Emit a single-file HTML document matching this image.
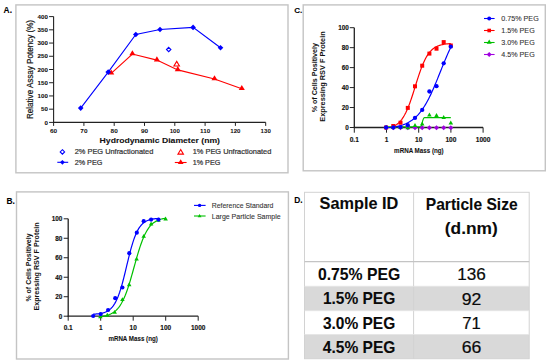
<!DOCTYPE html>
<html><head><meta charset="utf-8"><style>
html,body{margin:0;padding:0;background:#fff;width:550px;height:364px;overflow:hidden;}
svg{position:absolute;left:0;top:0;}
svg text{font-family:"Liberation Sans", sans-serif;}
</style></head><body>
<svg width="550" height="364" viewBox="0 0 550 364">
<rect x="15.9" y="4.9" width="272.1" height="167.9" fill="none" stroke="#c4c4c4" stroke-width="1.4"/>
<rect x="303.2" y="4.9" width="242.09999999999997" height="165.9" fill="none" stroke="#c4c4c4" stroke-width="1.4"/>
<rect x="16.5" y="191.9" width="271.9" height="167.1" fill="none" stroke="#c4c4c4" stroke-width="1.4"/>
<text x="3.6" y="12.8" font-size="8.4" font-weight="bold" fill="#000" stroke="#000" stroke-width="0.08">A.</text>
<text x="6.4" y="203.6" font-size="8.4" font-weight="bold" fill="#000" stroke="#000" stroke-width="0.08">B.</text>
<text x="294.2" y="12.9" font-size="8.0" font-weight="bold" fill="#000" stroke="#000" stroke-width="0.08">C.</text>
<text x="294.2" y="203.3" font-size="8.4" font-weight="bold" fill="#000" stroke="#000" stroke-width="0.08">D.</text>
<line x1="53.6" y1="16.6" x2="53.6" y2="122.9" stroke="#222" stroke-width="1.1"/>
<line x1="53.1" y1="122.4" x2="265.7" y2="122.4" stroke="#222" stroke-width="1.1"/>
<line x1="49.1" y1="122.4" x2="53.6" y2="122.4" stroke="#222" stroke-width="1"/>
<text x="47.9" y="124.60000000000001" font-size="6.2" font-weight="bold" text-anchor="end" fill="#111" stroke="#111" stroke-width="0.08">0</text>
<line x1="49.1" y1="109.17500000000001" x2="53.6" y2="109.17500000000001" stroke="#222" stroke-width="1"/>
<text x="47.9" y="111.37500000000001" font-size="6.2" font-weight="bold" text-anchor="end" fill="#111" stroke="#111" stroke-width="0.08">50</text>
<line x1="49.1" y1="95.95" x2="53.6" y2="95.95" stroke="#222" stroke-width="1"/>
<text x="47.9" y="98.15" font-size="6.2" font-weight="bold" text-anchor="end" fill="#111" stroke="#111" stroke-width="0.08">100</text>
<line x1="49.1" y1="82.725" x2="53.6" y2="82.725" stroke="#222" stroke-width="1"/>
<text x="47.9" y="84.925" font-size="6.2" font-weight="bold" text-anchor="end" fill="#111" stroke="#111" stroke-width="0.08">150</text>
<line x1="49.1" y1="69.5" x2="53.6" y2="69.5" stroke="#222" stroke-width="1"/>
<text x="47.9" y="71.7" font-size="6.2" font-weight="bold" text-anchor="end" fill="#111" stroke="#111" stroke-width="0.08">200</text>
<line x1="49.1" y1="56.275000000000006" x2="53.6" y2="56.275000000000006" stroke="#222" stroke-width="1"/>
<text x="47.9" y="58.47500000000001" font-size="6.2" font-weight="bold" text-anchor="end" fill="#111" stroke="#111" stroke-width="0.08">250</text>
<line x1="49.1" y1="43.05" x2="53.6" y2="43.05" stroke="#222" stroke-width="1"/>
<text x="47.9" y="45.25" font-size="6.2" font-weight="bold" text-anchor="end" fill="#111" stroke="#111" stroke-width="0.08">300</text>
<line x1="49.1" y1="29.825000000000003" x2="53.6" y2="29.825000000000003" stroke="#222" stroke-width="1"/>
<text x="47.9" y="32.025000000000006" font-size="6.2" font-weight="bold" text-anchor="end" fill="#111" stroke="#111" stroke-width="0.08">350</text>
<line x1="49.1" y1="16.599999999999994" x2="53.6" y2="16.599999999999994" stroke="#222" stroke-width="1"/>
<text x="47.9" y="18.799999999999994" font-size="6.2" font-weight="bold" text-anchor="end" fill="#111" stroke="#111" stroke-width="0.08">400</text>
<line x1="53.6" y1="122.4" x2="53.6" y2="125.9" stroke="#222" stroke-width="1"/>
<text x="53.6" y="132.7" font-size="6.0" font-weight="bold" text-anchor="middle" textLength="7.2" lengthAdjust="spacingAndGlyphs" fill="#111" stroke="#111" stroke-width="0.02">60</text>
<line x1="83.9" y1="122.4" x2="83.9" y2="125.9" stroke="#222" stroke-width="1"/>
<text x="83.9" y="132.7" font-size="6.0" font-weight="bold" text-anchor="middle" textLength="7.2" lengthAdjust="spacingAndGlyphs" fill="#111" stroke="#111" stroke-width="0.02">70</text>
<line x1="114.19999999999999" y1="122.4" x2="114.19999999999999" y2="125.9" stroke="#222" stroke-width="1"/>
<text x="114.19999999999999" y="132.7" font-size="6.0" font-weight="bold" text-anchor="middle" textLength="7.2" lengthAdjust="spacingAndGlyphs" fill="#111" stroke="#111" stroke-width="0.02">80</text>
<line x1="144.5" y1="122.4" x2="144.5" y2="125.9" stroke="#222" stroke-width="1"/>
<text x="144.5" y="132.7" font-size="6.0" font-weight="bold" text-anchor="middle" textLength="7.2" lengthAdjust="spacingAndGlyphs" fill="#111" stroke="#111" stroke-width="0.02">90</text>
<line x1="174.79999999999998" y1="122.4" x2="174.79999999999998" y2="125.9" stroke="#222" stroke-width="1"/>
<text x="174.79999999999998" y="132.7" font-size="6.0" font-weight="bold" text-anchor="middle" textLength="10.2" lengthAdjust="spacingAndGlyphs" fill="#111" stroke="#111" stroke-width="0.02">100</text>
<line x1="205.1" y1="122.4" x2="205.1" y2="125.9" stroke="#222" stroke-width="1"/>
<text x="205.1" y="132.7" font-size="6.0" font-weight="bold" text-anchor="middle" textLength="10.2" lengthAdjust="spacingAndGlyphs" fill="#111" stroke="#111" stroke-width="0.02">110</text>
<line x1="235.39999999999998" y1="122.4" x2="235.39999999999998" y2="125.9" stroke="#222" stroke-width="1"/>
<text x="235.39999999999998" y="132.7" font-size="6.0" font-weight="bold" text-anchor="middle" textLength="10.2" lengthAdjust="spacingAndGlyphs" fill="#111" stroke="#111" stroke-width="0.02">120</text>
<line x1="265.7" y1="122.4" x2="265.7" y2="125.9" stroke="#222" stroke-width="1"/>
<text x="265.7" y="132.7" font-size="6.0" font-weight="bold" text-anchor="middle" textLength="10.2" lengthAdjust="spacingAndGlyphs" fill="#111" stroke="#111" stroke-width="0.02">130</text>
<text x="32.8" y="69.5" font-size="8.3" text-anchor="middle" textLength="99" lengthAdjust="spacingAndGlyphs" transform="rotate(-90 32.8 69.5)" fill="#111" stroke="#111" stroke-width="0.2">Relative Assay Potency  (%)</text>
<text x="159.8" y="142.5" font-size="6.8" font-weight="bold" text-anchor="middle" textLength="120.4" lengthAdjust="spacingAndGlyphs" fill="#111" stroke="#111" stroke-width="0.08">Hydrodynamic Diameter (nm)</text>
<path d="M111.2 73.3L132.4 54L156.9 60.1L177.8 69.9L214.5 79L241.8 88.7" stroke="#ff0000" fill="none" stroke-width="1.1"/>
<path d="M80.7 108.1L108.2 72.1L135.8 34.5L160 29.5L193.1 27.4L220.5 47.7" stroke="#0000ff" fill="none" stroke-width="1.1"/>
<path d="M111.2 69.5L114.24000000000001 74.62L108.16 74.62Z" stroke="none" fill="#ff0000" stroke-width="1"/>
<path d="M132.4 50.199999999999996L135.44 55.32L129.36 55.32Z" stroke="none" fill="#ff0000" stroke-width="1"/>
<path d="M156.9 56.3L159.94 61.42L153.86 61.42Z" stroke="none" fill="#ff0000" stroke-width="1"/>
<path d="M177.8 66.10000000000001L180.84 71.22000000000001L174.76000000000002 71.22000000000001Z" stroke="none" fill="#ff0000" stroke-width="1"/>
<path d="M214.5 75.2L217.54 80.32000000000001L211.46 80.32000000000001Z" stroke="none" fill="#ff0000" stroke-width="1"/>
<path d="M241.8 84.9L244.84 90.02000000000001L238.76000000000002 90.02000000000001Z" stroke="none" fill="#ff0000" stroke-width="1"/>
<path d="M80.7 105.3L83.5 108.1L80.7 110.89999999999999L77.9 108.1Z" stroke="none" fill="#0000ff" stroke-width="1"/>
<path d="M108.2 69.3L111.0 72.1L108.2 74.89999999999999L105.4 72.1Z" stroke="none" fill="#0000ff" stroke-width="1"/>
<path d="M135.8 31.7L138.60000000000002 34.5L135.8 37.3L133.0 34.5Z" stroke="none" fill="#0000ff" stroke-width="1"/>
<path d="M160 26.7L162.8 29.5L160 32.3L157.2 29.5Z" stroke="none" fill="#0000ff" stroke-width="1"/>
<path d="M193.1 24.599999999999998L195.9 27.4L193.1 30.2L190.29999999999998 27.4Z" stroke="none" fill="#0000ff" stroke-width="1"/>
<path d="M220.5 44.900000000000006L223.3 47.7L220.5 50.5L217.7 47.7Z" stroke="none" fill="#0000ff" stroke-width="1"/>
<path d="M168.7 47.3L170.89999999999998 49.5L168.7 51.7L166.5 49.5Z" stroke="#0000ff" fill="#fff" stroke-width="1.1"/>
<path d="M176.7 61.4L179.45499999999998 66.03999999999999L173.945 66.03999999999999Z" stroke="#ff0000" fill="#fff" stroke-width="1.1"/>
<path d="M62.4 149.70000000000002L64.6 151.9L62.4 154.1L60.199999999999996 151.9Z" stroke="#0000ff" fill="#fff" stroke-width="1.1"/>
<line x1="57.3" y1="162.3" x2="68.2" y2="162.3" stroke="#0000ff" stroke-width="1.1"/>
<path d="M62.4 159.9L64.8 162.3L62.4 164.70000000000002L60.0 162.3Z" stroke="none" fill="#0000ff" stroke-width="1"/>
<text x="74.7" y="154.4" font-size="6.9" textLength="78.6" lengthAdjust="spacingAndGlyphs" fill="#333" stroke="#333" stroke-width="0.2">2% PEG Unfractionated</text>
<text x="74.7" y="164.5" font-size="6.9" textLength="27.6" lengthAdjust="spacingAndGlyphs" fill="#333" stroke="#333" stroke-width="0.2">2% PEG</text>
<path d="M180.7 149.5L183.45499999999998 154.14000000000001L177.945 154.14000000000001Z" stroke="#ff0000" fill="#fff" stroke-width="1.1"/>
<line x1="174.8" y1="162.5" x2="186.6" y2="162.5" stroke="#ff0000" stroke-width="1.1"/>
<path d="M180.7 159.3L183.54999999999998 164.10000000000002L177.85 164.10000000000002Z" stroke="none" fill="#ff0000" stroke-width="1"/>
<text x="192.7" y="154.4" font-size="6.9" textLength="78.6" lengthAdjust="spacingAndGlyphs" fill="#333" stroke="#333" stroke-width="0.2">1% PEG Unfractionated</text>
<text x="192.7" y="164.5" font-size="6.9" textLength="27.6" lengthAdjust="spacingAndGlyphs" fill="#333" stroke="#333" stroke-width="0.2">1% PEG</text>
<line x1="68.2" y1="218.8" x2="68.2" y2="316.7" stroke="#222" stroke-width="1.3"/>
<line x1="67.7" y1="316.2" x2="198.2" y2="316.2" stroke="#222" stroke-width="1.3"/>
<line x1="63.7" y1="316.2" x2="68.2" y2="316.2" stroke="#222" stroke-width="1"/>
<text x="62.4" y="318.7" font-size="7.0" font-weight="bold" text-anchor="end" textLength="3.56" lengthAdjust="spacingAndGlyphs" fill="#111" stroke="#111" stroke-width="0.15">0</text>
<line x1="63.7" y1="296.71999999999997" x2="68.2" y2="296.71999999999997" stroke="#222" stroke-width="1"/>
<text x="62.4" y="299.21999999999997" font-size="7.0" font-weight="bold" text-anchor="end" textLength="7.12" lengthAdjust="spacingAndGlyphs" fill="#111" stroke="#111" stroke-width="0.15">20</text>
<line x1="63.7" y1="277.24" x2="68.2" y2="277.24" stroke="#222" stroke-width="1"/>
<text x="62.4" y="279.74" font-size="7.0" font-weight="bold" text-anchor="end" textLength="7.12" lengthAdjust="spacingAndGlyphs" fill="#111" stroke="#111" stroke-width="0.15">40</text>
<line x1="63.7" y1="257.76" x2="68.2" y2="257.76" stroke="#222" stroke-width="1"/>
<text x="62.4" y="260.26" font-size="7.0" font-weight="bold" text-anchor="end" textLength="7.12" lengthAdjust="spacingAndGlyphs" fill="#111" stroke="#111" stroke-width="0.15">60</text>
<line x1="63.7" y1="238.28" x2="68.2" y2="238.28" stroke="#222" stroke-width="1"/>
<text x="62.4" y="240.78" font-size="7.0" font-weight="bold" text-anchor="end" textLength="7.12" lengthAdjust="spacingAndGlyphs" fill="#111" stroke="#111" stroke-width="0.15">80</text>
<line x1="63.7" y1="218.8" x2="68.2" y2="218.8" stroke="#222" stroke-width="1"/>
<text x="62.4" y="221.3" font-size="7.0" font-weight="bold" text-anchor="end" textLength="10.68" lengthAdjust="spacingAndGlyphs" fill="#111" stroke="#111" stroke-width="0.15">100</text>
<line x1="68.2" y1="316.2" x2="68.2" y2="320.7" stroke="#222" stroke-width="1"/>
<text x="68.2" y="329.9" font-size="7.0" font-weight="bold" text-anchor="middle" textLength="9.04" lengthAdjust="spacingAndGlyphs" fill="#111" stroke="#111" stroke-width="0.15">0.1</text>
<line x1="100.7" y1="316.2" x2="100.7" y2="320.7" stroke="#222" stroke-width="1"/>
<text x="100.7" y="329.9" font-size="7.0" font-weight="bold" text-anchor="middle" textLength="3.61" lengthAdjust="spacingAndGlyphs" fill="#111" stroke="#111" stroke-width="0.15">1</text>
<line x1="133.2" y1="316.2" x2="133.2" y2="320.7" stroke="#222" stroke-width="1"/>
<text x="133.2" y="329.9" font-size="7.0" font-weight="bold" text-anchor="middle" textLength="7.23" lengthAdjust="spacingAndGlyphs" fill="#111" stroke="#111" stroke-width="0.15">10</text>
<line x1="165.7" y1="316.2" x2="165.7" y2="320.7" stroke="#222" stroke-width="1"/>
<text x="165.7" y="329.9" font-size="7.0" font-weight="bold" text-anchor="middle" textLength="10.84" lengthAdjust="spacingAndGlyphs" fill="#111" stroke="#111" stroke-width="0.15">100</text>
<line x1="198.2" y1="316.2" x2="198.2" y2="320.7" stroke="#222" stroke-width="1"/>
<text x="198.2" y="329.9" font-size="7.0" font-weight="bold" text-anchor="middle" textLength="14.46" lengthAdjust="spacingAndGlyphs" fill="#111" stroke="#111" stroke-width="0.15">1000</text>
<text x="31.0" y="267.5" font-size="6.4" font-weight="bold" text-anchor="middle" textLength="68.2" lengthAdjust="spacingAndGlyphs" transform="rotate(-90 31.0 267.5)" fill="#111" stroke="#111" stroke-width="0">% of Cells Positively</text>
<text x="38.6" y="266.5" font-size="6.4" font-weight="bold" text-anchor="middle" textLength="88.2" lengthAdjust="spacingAndGlyphs" transform="rotate(-90 38.6 266.5)" fill="#111" stroke="#111" stroke-width="0">Expressing RSV F Protein</text>
<text x="133.1" y="340.9" font-size="6.7" font-weight="bold" text-anchor="middle" textLength="49.4" lengthAdjust="spacingAndGlyphs" fill="#111" stroke="#111" stroke-width="0.08">mRNA Mass (ng)</text>
<path d="M93.20 314.19L94.03 314.15L94.85 314.10L95.68 314.04L96.51 313.97L97.33 313.89L98.16 313.79L98.99 313.69L99.81 313.57L100.64 313.43L101.47 313.26L102.29 313.08L103.12 312.86L103.95 312.62L104.77 312.34L105.60 312.02L106.43 311.65L107.25 311.22L108.08 310.74L108.91 310.19L109.73 309.56L110.56 308.85L111.38 308.04L112.21 307.12L113.04 306.08L113.86 304.92L114.69 303.61L115.52 302.15L116.34 300.53L117.17 298.73L118.00 296.75L118.82 294.59L119.65 292.23L120.48 289.69L121.30 286.96L122.13 284.06L122.96 281.00L123.78 277.81L124.61 274.51L125.44 271.12L126.26 267.68L127.09 264.23L127.92 260.81L128.74 257.43L129.57 254.14L130.40 250.97L131.22 247.94L132.05 245.07L132.88 242.38L133.70 239.87L134.53 237.54L135.36 235.41L136.18 233.46L137.01 231.70L137.84 230.10L138.66 228.67L139.49 227.39L140.32 226.25L141.14 225.23L141.97 224.34L142.79 223.54L143.62 222.85L144.45 222.23L145.27 221.69L146.10 221.22L146.93 220.81L147.75 220.45L148.58 220.13L149.41 219.86L150.23 219.62L151.06 219.41L151.89 219.23L152.71 219.07L153.54 218.93L154.37 218.82L155.19 218.71L156.02 218.62L156.85 218.54L157.67 218.48L158.50 218.42" stroke="#0000ff" fill="none" stroke-width="1.2"/>
<path d="M100.40 316.55L101.23 316.45L102.05 316.34L102.88 316.22L103.70 316.08L104.53 315.93L105.35 315.75L106.18 315.56L107.00 315.34L107.83 315.09L108.65 314.82L109.48 314.51L110.30 314.16L111.13 313.78L111.95 313.34L112.78 312.86L113.61 312.33L114.43 311.73L115.26 311.07L116.08 310.33L116.91 309.52L117.73 308.62L118.56 307.62L119.38 306.53L120.21 305.33L121.03 304.01L121.86 302.58L122.68 301.02L123.51 299.33L124.33 297.50L125.16 295.54L125.98 293.44L126.81 291.21L127.64 288.85L128.46 286.37L129.29 283.77L130.11 281.06L130.94 278.27L131.76 275.40L132.59 272.47L133.41 269.51L134.24 266.53L135.06 263.56L135.89 260.61L136.71 257.71L137.54 254.87L138.36 252.12L139.19 249.46L140.02 246.92L140.84 244.49L141.67 242.19L142.49 240.02L143.32 237.99L144.14 236.09L144.97 234.33L145.79 232.70L146.62 231.20L147.44 229.83L148.27 228.57L149.09 227.42L149.92 226.37L150.74 225.42L151.57 224.56L152.39 223.79L153.22 223.09L154.05 222.46L154.87 221.89L155.70 221.38L156.52 220.92L157.35 220.51L158.17 220.15L159.00 219.82L159.82 219.53L160.65 219.27L161.47 219.03L162.30 218.83L163.12 218.64L163.95 218.47L164.77 218.33L165.60 218.20" stroke="#00c000" fill="none" stroke-width="1.2"/>
<path d="M100.4 314.40000000000003L102.68 318.24L98.12 318.24Z" stroke="none" fill="#00c000" stroke-width="1"/>
<path d="M107.3 312.8L109.58 316.64L105.02 316.64Z" stroke="none" fill="#00c000" stroke-width="1"/>
<path d="M114.7 310.0L116.98 313.84L112.42 313.84Z" stroke="none" fill="#00c000" stroke-width="1"/>
<path d="M122.4 297.20000000000005L124.68 301.04L120.12 301.04Z" stroke="none" fill="#00c000" stroke-width="1"/>
<path d="M129.2 282.3L131.48 286.14L126.91999999999999 286.14Z" stroke="none" fill="#00c000" stroke-width="1"/>
<path d="M136.6 256.70000000000005L138.88 260.54L134.32 260.54Z" stroke="none" fill="#00c000" stroke-width="1"/>
<path d="M143.7 234.0L145.98 237.84L141.42 237.84Z" stroke="none" fill="#00c000" stroke-width="1"/>
<path d="M151.1 221.6L153.38 225.44L148.82 225.44Z" stroke="none" fill="#00c000" stroke-width="1"/>
<path d="M158.5 217.79999999999998L160.78 221.64L156.22 221.64Z" stroke="none" fill="#00c000" stroke-width="1"/>
<path d="M165.6 216.6L167.88 220.44L163.32 220.44Z" stroke="none" fill="#00c000" stroke-width="1"/>
<circle cx="93.2" cy="316" r="2.1" fill="#0000ff"/>
<circle cx="100.7" cy="314.1" r="2.1" fill="#0000ff"/>
<circle cx="108.1" cy="310" r="2.1" fill="#0000ff"/>
<circle cx="115.2" cy="298.2" r="2.1" fill="#0000ff"/>
<circle cx="122.4" cy="287.5" r="2.1" fill="#0000ff"/>
<circle cx="129.3" cy="253.2" r="2.1" fill="#0000ff"/>
<circle cx="136.8" cy="232.7" r="2.1" fill="#0000ff"/>
<circle cx="143.7" cy="221.2" r="2.1" fill="#0000ff"/>
<circle cx="151.1" cy="219.6" r="2.1" fill="#0000ff"/>
<circle cx="158.5" cy="219.6" r="2.1" fill="#0000ff"/>
<line x1="194" y1="205.4" x2="205.6" y2="205.4" stroke="#0000ff" stroke-width="1.1"/>
<circle cx="199.6" cy="205.4" r="1.7" fill="#0000ff"/>
<line x1="194" y1="216" x2="205.6" y2="216" stroke="#00c000" stroke-width="1.1"/>
<path d="M199.6 214.0L201.5 217.2L197.7 217.2Z" stroke="none" fill="#00c000" stroke-width="1"/>
<text x="211.8" y="208.2" font-size="7.4" textLength="61.6" lengthAdjust="spacingAndGlyphs" fill="#333" stroke="#333" stroke-width="0.1">Reference Standard</text>
<text x="211.8" y="218.8" font-size="7.4" textLength="68.8" lengthAdjust="spacingAndGlyphs" fill="#333" stroke="#333" stroke-width="0.1">Large Particle Sample</text>
<line x1="354.3" y1="27.7" x2="354.3" y2="128.0" stroke="#222" stroke-width="1.3"/>
<line x1="353.8" y1="127.5" x2="483.1" y2="127.5" stroke="#222" stroke-width="1.3"/>
<line x1="349.8" y1="127.5" x2="354.3" y2="127.5" stroke="#222" stroke-width="1"/>
<text x="348.9" y="130.0" font-size="7.0" font-weight="bold" text-anchor="end" textLength="3.56" lengthAdjust="spacingAndGlyphs" fill="#111" stroke="#111" stroke-width="0.15">0</text>
<line x1="349.8" y1="107.53999999999999" x2="354.3" y2="107.53999999999999" stroke="#222" stroke-width="1"/>
<text x="348.9" y="110.03999999999999" font-size="7.0" font-weight="bold" text-anchor="end" textLength="7.12" lengthAdjust="spacingAndGlyphs" fill="#111" stroke="#111" stroke-width="0.15">20</text>
<line x1="349.8" y1="87.58" x2="354.3" y2="87.58" stroke="#222" stroke-width="1"/>
<text x="348.9" y="90.08" font-size="7.0" font-weight="bold" text-anchor="end" textLength="7.12" lengthAdjust="spacingAndGlyphs" fill="#111" stroke="#111" stroke-width="0.15">40</text>
<line x1="349.8" y1="67.62" x2="354.3" y2="67.62" stroke="#222" stroke-width="1"/>
<text x="348.9" y="70.12" font-size="7.0" font-weight="bold" text-anchor="end" textLength="7.12" lengthAdjust="spacingAndGlyphs" fill="#111" stroke="#111" stroke-width="0.15">60</text>
<line x1="349.8" y1="47.66" x2="354.3" y2="47.66" stroke="#222" stroke-width="1"/>
<text x="348.9" y="50.16" font-size="7.0" font-weight="bold" text-anchor="end" textLength="7.12" lengthAdjust="spacingAndGlyphs" fill="#111" stroke="#111" stroke-width="0.15">80</text>
<line x1="349.8" y1="27.700000000000003" x2="354.3" y2="27.700000000000003" stroke="#222" stroke-width="1"/>
<text x="348.9" y="30.200000000000003" font-size="7.0" font-weight="bold" text-anchor="end" textLength="10.68" lengthAdjust="spacingAndGlyphs" fill="#111" stroke="#111" stroke-width="0.15">100</text>
<line x1="354.3" y1="127.5" x2="354.3" y2="132.7" stroke="#222" stroke-width="1"/>
<text x="354.3" y="141.6" font-size="7.0" font-weight="bold" text-anchor="middle" textLength="9.17" lengthAdjust="spacingAndGlyphs" fill="#111" stroke="#111" stroke-width="0.15">0.1</text>
<line x1="386.5" y1="127.5" x2="386.5" y2="132.7" stroke="#222" stroke-width="1"/>
<text x="386.5" y="141.6" font-size="7.0" font-weight="bold" text-anchor="middle" textLength="3.67" lengthAdjust="spacingAndGlyphs" fill="#111" stroke="#111" stroke-width="0.15">1</text>
<line x1="418.70000000000005" y1="127.5" x2="418.70000000000005" y2="132.7" stroke="#222" stroke-width="1"/>
<text x="418.70000000000005" y="141.6" font-size="7.0" font-weight="bold" text-anchor="middle" textLength="7.34" lengthAdjust="spacingAndGlyphs" fill="#111" stroke="#111" stroke-width="0.15">10</text>
<line x1="450.90000000000003" y1="127.5" x2="450.90000000000003" y2="132.7" stroke="#222" stroke-width="1"/>
<text x="450.90000000000003" y="141.6" font-size="7.0" font-weight="bold" text-anchor="middle" textLength="11.01" lengthAdjust="spacingAndGlyphs" fill="#111" stroke="#111" stroke-width="0.15">100</text>
<line x1="483.1" y1="127.5" x2="483.1" y2="132.7" stroke="#222" stroke-width="1"/>
<text x="483.1" y="141.6" font-size="7.0" font-weight="bold" text-anchor="middle" textLength="14.68" lengthAdjust="spacingAndGlyphs" fill="#111" stroke="#111" stroke-width="0.15">1000</text>
<text x="317.4" y="77.7" font-size="6.4" font-weight="bold" text-anchor="middle" textLength="69.2" lengthAdjust="spacingAndGlyphs" transform="rotate(-90 317.4 77.7)" fill="#111" stroke="#111" stroke-width="0">% of Cells Positively</text>
<text x="325.2" y="76.5" font-size="6.4" font-weight="bold" text-anchor="middle" textLength="90.3" lengthAdjust="spacingAndGlyphs" transform="rotate(-90 325.2 76.5)" fill="#111" stroke="#111" stroke-width="0">Expressing RSV F Protein</text>
<text x="418.9" y="152.9" font-size="7.0" font-weight="bold" text-anchor="middle" textLength="49.6" lengthAdjust="spacingAndGlyphs" fill="#111" stroke="#111" stroke-width="0.08">mRNA Mass (ng)</text>
<path d="M386.1 126.9L420.6 126.9C422 126.9 422.4 117.6 424.6 117.6L450.8 117.6" stroke="#00c000" fill="none" stroke-width="1.2"/>
<path d="M386.10 127.50L386.92 127.50L387.74 127.50L388.56 127.50L389.38 127.50L390.19 127.50L391.01 127.30L391.83 127.02L392.65 126.70L393.47 126.34L394.29 125.94L395.11 125.49L395.93 124.99L396.75 124.43L397.57 123.81L398.38 123.12L399.20 122.36L400.02 121.51L400.84 120.57L401.66 119.54L402.48 118.41L403.30 117.17L404.12 115.81L404.94 114.34L405.76 112.75L406.57 111.03L407.39 109.20L408.21 107.23L409.03 105.15L409.85 102.96L410.67 100.66L411.49 98.27L412.31 95.79L413.13 93.25L413.95 90.66L414.76 88.03L415.58 85.39L416.40 82.76L417.22 80.16L418.04 77.60L418.86 75.11L419.68 72.69L420.50 70.36L421.32 68.14L422.14 66.02L422.95 64.03L423.77 62.15L424.59 60.40L425.41 58.78L426.23 57.27L427.05 55.89L427.87 54.61L428.69 53.45L429.51 52.39L430.33 51.43L431.14 50.56L431.96 49.77L432.78 49.06L433.60 48.41L434.42 47.84L435.24 47.32L436.06 46.86L436.88 46.45L437.70 46.08L438.52 45.75L439.33 45.46L440.15 45.19L440.97 44.96L441.79 44.75L442.61 44.57L443.43 44.40L444.25 44.26L445.07 44.13L445.89 44.01L446.71 43.91L447.52 43.82L448.34 43.74L449.16 43.67L449.98 43.61L450.80 43.55" stroke="#ff0000" fill="none" stroke-width="1.2"/>
<path d="M386.10 127.50L386.92 127.50L387.74 127.50L388.56 127.50L389.38 127.50L390.19 127.50L391.01 127.50L391.83 127.40L392.65 127.28L393.47 127.15L394.29 127.02L395.11 126.87L395.93 126.72L396.75 126.55L397.57 126.37L398.38 126.18L399.20 125.98L400.02 125.76L400.84 125.52L401.66 125.27L402.48 125.01L403.30 124.72L404.12 124.41L404.94 124.09L405.76 123.74L406.57 123.36L407.39 122.97L408.21 122.54L409.03 122.09L409.85 121.61L410.67 121.09L411.49 120.55L412.31 119.97L413.13 119.35L413.95 118.70L414.76 118.01L415.58 117.27L416.40 116.49L417.22 115.67L418.04 114.80L418.86 113.88L419.68 112.91L420.50 111.89L421.32 110.82L422.14 109.70L422.95 108.52L423.77 107.28L424.59 105.99L425.41 104.64L426.23 103.23L427.05 101.77L427.87 100.26L428.69 98.68L429.51 97.06L430.33 95.38L431.14 93.65L431.96 91.87L432.78 90.05L433.60 88.18L434.42 86.28L435.24 84.34L436.06 82.38L436.88 80.38L437.70 78.37L438.52 76.33L439.33 74.29L440.15 72.24L440.97 70.19L441.79 68.15L442.61 66.11L443.43 64.09L444.25 62.09L445.07 60.12L445.89 58.17L446.71 56.26L447.52 54.38L448.34 52.55L449.16 50.75L449.98 49.01L450.80 47.32" stroke="#0000ff" fill="none" stroke-width="1.2"/>
<path d="M386.1 125.2L388.6 127.7L386.1 130.2L383.6 127.7Z" stroke="none" fill="#a000e0" stroke-width="1"/>
<path d="M393.3 125.2L395.8 127.7L393.3 130.2L390.8 127.7Z" stroke="none" fill="#a000e0" stroke-width="1"/>
<path d="M400.5 125.2L403.0 127.7L400.5 130.2L398.0 127.7Z" stroke="none" fill="#a000e0" stroke-width="1"/>
<path d="M407.8 125.2L410.3 127.7L407.8 130.2L405.3 127.7Z" stroke="none" fill="#a000e0" stroke-width="1"/>
<path d="M415 125.2L417.5 127.7L415 130.2L412.5 127.7Z" stroke="none" fill="#a000e0" stroke-width="1"/>
<path d="M422.2 125.2L424.7 127.7L422.2 130.2L419.7 127.7Z" stroke="none" fill="#a000e0" stroke-width="1"/>
<path d="M429.4 125.2L431.9 127.7L429.4 130.2L426.9 127.7Z" stroke="none" fill="#a000e0" stroke-width="1"/>
<path d="M436.5 125.2L439.0 127.7L436.5 130.2L434.0 127.7Z" stroke="none" fill="#a000e0" stroke-width="1"/>
<path d="M443.7 125.2L446.2 127.7L443.7 130.2L441.2 127.7Z" stroke="none" fill="#a000e0" stroke-width="1"/>
<path d="M450.8 125.2L453.3 127.7L450.8 130.2L448.3 127.7Z" stroke="none" fill="#a000e0" stroke-width="1"/>
<path d="M386.1 125.1L388.38 128.94L383.82000000000005 128.94Z" stroke="none" fill="#00c000" stroke-width="1"/>
<path d="M393.3 125.1L395.58 128.94L391.02000000000004 128.94Z" stroke="none" fill="#00c000" stroke-width="1"/>
<path d="M400.5 125.1L402.78 128.94L398.22 128.94Z" stroke="none" fill="#00c000" stroke-width="1"/>
<path d="M407.8 125.39999999999999L410.08 129.24L405.52000000000004 129.24Z" stroke="none" fill="#00c000" stroke-width="1"/>
<path d="M415 123.1L417.28 126.94L412.72 126.94Z" stroke="none" fill="#00c000" stroke-width="1"/>
<path d="M422.2 121.6L424.47999999999996 125.44L419.92 125.44Z" stroke="none" fill="#00c000" stroke-width="1"/>
<path d="M429.4 112.6L431.67999999999995 116.44L427.12 116.44Z" stroke="none" fill="#00c000" stroke-width="1"/>
<path d="M436.5 113.1L438.78 116.94L434.22 116.94Z" stroke="none" fill="#00c000" stroke-width="1"/>
<path d="M443.7 115.1L445.97999999999996 118.94L441.42 118.94Z" stroke="none" fill="#00c000" stroke-width="1"/>
<path d="M450.8 120.6L453.08 124.44L448.52000000000004 124.44Z" stroke="none" fill="#00c000" stroke-width="1"/>
<rect x="384.1" y="125.5" width="4.0" height="4.0" fill="#ff0000"/>
<rect x="391.3" y="124.0" width="4.0" height="4.0" fill="#ff0000"/>
<rect x="398.5" y="120.7" width="4.0" height="4.0" fill="#ff0000"/>
<rect x="405.8" y="105.9" width="4.0" height="4.0" fill="#ff0000"/>
<rect x="413.0" y="84.3" width="4.0" height="4.0" fill="#ff0000"/>
<rect x="420.2" y="63.7" width="4.0" height="4.0" fill="#ff0000"/>
<rect x="427.4" y="51.6" width="4.0" height="4.0" fill="#ff0000"/>
<rect x="434.5" y="46.7" width="4.0" height="4.0" fill="#ff0000"/>
<rect x="441.7" y="40.1" width="4.0" height="4.0" fill="#ff0000"/>
<rect x="448.8" y="43.5" width="4.0" height="4.0" fill="#ff0000"/>
<circle cx="386.1" cy="127.5" r="2.15" fill="#0000ff"/>
<circle cx="393.3" cy="127.5" r="2.15" fill="#0000ff"/>
<circle cx="400.5" cy="127.1" r="2.15" fill="#0000ff"/>
<circle cx="407.8" cy="125.2" r="2.15" fill="#0000ff"/>
<circle cx="415" cy="117.9" r="2.15" fill="#0000ff"/>
<circle cx="422.2" cy="109.9" r="2.15" fill="#0000ff"/>
<circle cx="429.4" cy="91.5" r="2.15" fill="#0000ff"/>
<circle cx="436.5" cy="86.2" r="2.15" fill="#0000ff"/>
<circle cx="443.7" cy="63.3" r="2.15" fill="#0000ff"/>
<circle cx="450.8" cy="46.7" r="2.15" fill="#0000ff"/>
<line x1="484" y1="18.5" x2="494.6" y2="18.5" stroke="#0000ff" stroke-width="1.1"/>
<circle cx="489.2" cy="18.5" r="2.0" fill="#0000ff"/>
<text x="501.3" y="21.4" font-size="7.9" textLength="37.4" lengthAdjust="spacingAndGlyphs" fill="#333" stroke="#333" stroke-width="0.1">0.75% PEG</text>
<line x1="484" y1="30.5" x2="494.6" y2="30.5" stroke="#ff0000" stroke-width="1.1"/>
<rect x="487.4" y="28.7" width="3.6" height="3.6" fill="#ff0000"/>
<text x="501.3" y="33.4" font-size="7.9" textLength="33.4" lengthAdjust="spacingAndGlyphs" fill="#333" stroke="#333" stroke-width="0.1">1.5% PEG</text>
<line x1="484" y1="42.5" x2="494.6" y2="42.5" stroke="#00c000" stroke-width="1.1"/>
<path d="M489.2 39.6L491.67 43.760000000000005L486.72999999999996 43.760000000000005Z" stroke="none" fill="#00c000" stroke-width="1"/>
<text x="501.3" y="45.4" font-size="7.9" textLength="33.4" lengthAdjust="spacingAndGlyphs" fill="#333" stroke="#333" stroke-width="0.1">3.0% PEG</text>
<line x1="484" y1="54.5" x2="494.6" y2="54.5" stroke="#a000e0" stroke-width="1.1"/>
<path d="M489.2 52.0L491.7 54.5L489.2 57.0L486.7 54.5Z" stroke="none" fill="#a000e0" stroke-width="1"/>
<text x="501.3" y="57.4" font-size="7.9" textLength="33.4" lengthAdjust="spacingAndGlyphs" fill="#333" stroke="#333" stroke-width="0.1">4.5% PEG</text>
<rect x="304.5" y="286.3" width="224.7" height="24.4" fill="#d9d9d9"/>
<rect x="304.5" y="334.5" width="224.7" height="24.2" fill="#d9d9d9"/>
<rect x="304.5" y="192.3" width="224.7" height="166.4" fill="none" stroke="#d2d2d2" stroke-width="1"/>
<line x1="413.6" y1="192.3" x2="413.6" y2="358.7" stroke="#d2d2d2" stroke-width="1"/>
<line x1="304.5" y1="261.6" x2="529.2" y2="261.6" stroke="#c4c4c4" stroke-width="1.4"/>
<line x1="304.5" y1="286.3" x2="529.2" y2="286.3" stroke="#e4e4e4" stroke-width="0.8"/>
<line x1="304.5" y1="310.7" x2="529.2" y2="310.7" stroke="#e4e4e4" stroke-width="0.8"/>
<line x1="304.5" y1="334.5" x2="529.2" y2="334.5" stroke="#e4e4e4" stroke-width="0.8"/>
<text x="359.0" y="209.3" font-size="16.2" font-weight="bold" text-anchor="middle" textLength="78.8" lengthAdjust="spacingAndGlyphs" fill="#0a0a0a" stroke="#0a0a0a" stroke-width="0.08">Sample ID</text>
<text x="471.7" y="209.6" font-size="16.2" font-weight="bold" text-anchor="middle" textLength="91.9" lengthAdjust="spacingAndGlyphs" fill="#0a0a0a" stroke="#0a0a0a" stroke-width="0.08">Particle Size</text>
<text x="471.3" y="233.6" font-size="16.2" font-weight="bold" text-anchor="middle" textLength="53" lengthAdjust="spacingAndGlyphs" fill="#0a0a0a" stroke="#0a0a0a" stroke-width="0.08">(d.nm)</text>
<text x="359.1" y="279.8" font-size="15.7" font-weight="bold" text-anchor="middle" textLength="82.3" lengthAdjust="spacingAndGlyphs" fill="#0a0a0a" stroke="#0a0a0a" stroke-width="0.08">0.75% PEG</text>
<text x="471.5" y="280.1" font-size="15.9" text-anchor="middle" textLength="28.6" lengthAdjust="spacingAndGlyphs" fill="#0a0a0a" stroke="#0a0a0a" stroke-width="0.2">136</text>
<text x="359.1" y="304.4" font-size="15.7" font-weight="bold" text-anchor="middle" textLength="72.3" lengthAdjust="spacingAndGlyphs" fill="#0a0a0a" stroke="#0a0a0a" stroke-width="0.08">1.5% PEG</text>
<text x="471.5" y="304.7" font-size="15.9" text-anchor="middle" textLength="19.6" lengthAdjust="spacingAndGlyphs" fill="#0a0a0a" stroke="#0a0a0a" stroke-width="0.2">92</text>
<text x="359.1" y="328.8" font-size="15.7" font-weight="bold" text-anchor="middle" textLength="72.3" lengthAdjust="spacingAndGlyphs" fill="#0a0a0a" stroke="#0a0a0a" stroke-width="0.08">3.0% PEG</text>
<text x="471.5" y="329.1" font-size="15.9" text-anchor="middle" textLength="18.6" lengthAdjust="spacingAndGlyphs" fill="#0a0a0a" stroke="#0a0a0a" stroke-width="0.2">71</text>
<text x="359.1" y="352.9" font-size="15.7" font-weight="bold" text-anchor="middle" textLength="72.6" lengthAdjust="spacingAndGlyphs" fill="#0a0a0a" stroke="#0a0a0a" stroke-width="0.08">4.5% PEG</text>
<text x="471.5" y="353.2" font-size="15.9" text-anchor="middle" textLength="19.6" lengthAdjust="spacingAndGlyphs" fill="#0a0a0a" stroke="#0a0a0a" stroke-width="0.2">66</text>
</svg>

</body></html>
